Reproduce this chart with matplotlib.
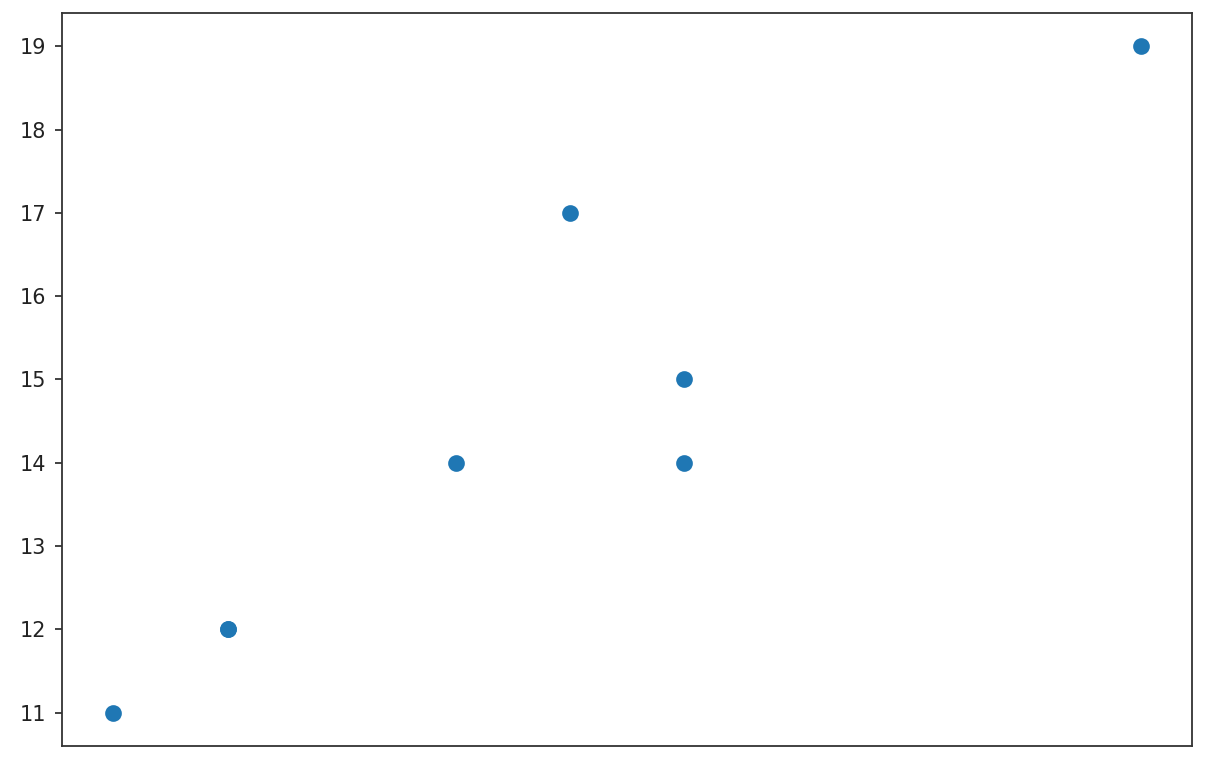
import matplotlib
matplotlib.use("Agg")
import matplotlib.pyplot as plt

# data
x_vals = [1, 2, 2, 4, 5, 6, 6, 10]
y_vals = [11, 12, 12, 14, 17, 15, 14, 19]

fig = plt.figure(figsize=(1208 / 130, 760 / 130), dpi=130)
ax = fig.add_axes([62 / 1208, 1 - 746 / 760, (1192 - 62) / 1208, (746 - 13) / 760])

ax.scatter(x_vals, y_vals, s=68, color="#1f77b4")
ax.set_xticks([])
ax.tick_params(axis="y", labelsize=11.5, length=3.8, width=1.0,
               color="#333333", labelcolor="#222222", pad=5)
for sp in ax.spines.values():
    sp.set_color("#333333")
    sp.set_linewidth(1.0)

fig.savefig("out.png", dpi=130)
